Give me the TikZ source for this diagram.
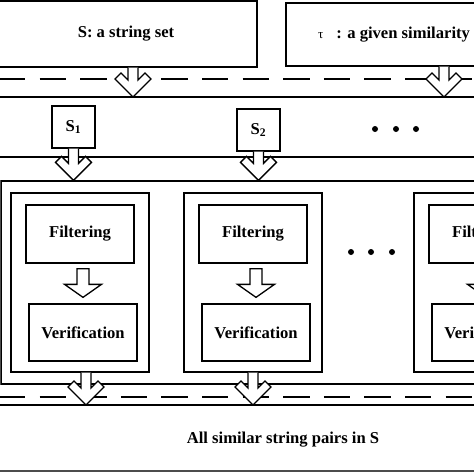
\documentclass[tikz,border=0pt]{standalone}
\usepackage{fontspec}
\setmainfont{Liberation Serif}
\usetikzlibrary{calc}
\tikzset{
  box/.style={draw, line width=1.3pt, fill=white, inner sep=0pt,
    font=\fontsize{16.6}{20}\selectfont\bfseries},
  txt/.style={inner sep=0pt, font=\fontsize{16.6}{20}\selectfont\bfseries},
  chev/.style={draw, fill=white, line width=1.3pt, line join=miter},
  hline/.style={line width=1.3pt},
  dline/.style={line width=1.3pt, dash pattern=on 26.3pt off 14.3pt},
  edgeline/.style={line width=2.2pt, black!70},
  dot/.style={circle, fill=black, inner sep=0pt, minimum size=6pt},
}
\newcommand\chevarrow[2]{%
  \path[chev] let \p1=(#1), \p2=(#2) in
    (\x2-5pt,\y1) -- (\x2-5pt,\y2+17pt) -- (\x2-12pt,\y2+24pt) --
    (\x2-18pt,\y2+18pt) -- (\x2,\y2) -- (\x2+18pt,\y2+18pt) --
    (\x2+12pt,\y2+24pt) -- (\x2+5pt,\y2+17pt) -- (\x2+5pt,\y1);}
\newcommand\blkarrow[2]{%
  \path[chev] let \p1=(#1.south), \p2=(#2.north) in
    (\x2-6pt,\y1-5pt) -- (\x2-6pt,\y2+19pt) -- (\x2-18.5pt,\y2+19pt) --
    (\x2,\y2+6pt) -- (\x2+18.5pt,\y2+19pt) -- (\x2+6pt,\y2+19pt) --
    (\x2+6pt,\y1-5pt) -- cycle;}
\begin{document}
\begin{tikzpicture}[x=1pt,y=-1pt]
\useasboundingbox (0,0) rectangle (474,474);
% horizontal lines
\coordinate (dA1) at (-1,79);  \coordinate (dA2) at (490,79);
\coordinate (hA1) at (-10,97); \coordinate (hA2) at (490,97);
\coordinate (hB1) at (-10,157); \coordinate (hB2) at (490,157);
\coordinate (dC1) at (-1,397); \coordinate (dC2) at (490,397);
\coordinate (hC1) at (-10,405); \coordinate (hC2) at (490,405);
\coordinate (hD1) at (-10,471); \coordinate (hD2) at (490,471);
\draw[dline] (dA1) -- (dA2);
\draw[hline] (hA1) -- (hA2);
\draw[hline] (hB1) -- (hB2);
\draw[dline] (dC1) -- (dC2);
\draw[hline] (hC1) -- (hC2);
\draw[edgeline] (hD1) -- (hD2);
% top boxes
\node[box, minimum width=262pt, minimum height=66pt] (sset) at (126,34) {S: a string set};
\node[box, minimum width=216pt, minimum height=63pt] (tau) at (394,34.5)
  {{\fontsize{13}{13}\selectfont\mdseries τ}\hspace{13pt}: a given similarity};
% subsets
\node[box, minimum width=43pt, minimum height=42pt] (s1) at (73.5,127) {S\textsubscript{1}};
\node[box, minimum width=43pt, minimum height=42pt] (s2) at (258.5,130) {S\textsubscript{2}};
\node[dot] (da) at (375,129) {};
\node[dot] (db) at (396,129) {};
\node[dot] (dc) at (416,129) {};
% big box
\node[box, minimum width=489pt, minimum height=203pt] (big) at (245.5,282.5) {};
\draw[edgeline] (big.north west) -- (big.south west);
% groups
\foreach \i/\dx in {1/0,2/173,3/403}{
  \node[box, minimum width=138pt, minimum height=179pt] (g\i) at (80+\dx,282.5) {};
  \node[box, minimum width=108pt, minimum height=58pt] (f\i) at (80+\dx,234) {Filtering};
  \node[box, minimum width=108pt, minimum height=57pt] (v\i) at (83+\dx,332.5) {Verification};
  \blkarrow{f\i}{v\i}
}
\node[dot] (de) at (351,252) {};
\node[dot] (df) at (371,252) {};
\node[dot] (dg) at (392,252) {};
% chevron arrows
\coordinate (tS) at (133,97);
\coordinate (tT) at (444,97);
\coordinate (tG1) at (86,405);
\coordinate (tG2) at (253,405);
\chevarrow{sset.south}{tS}
\chevarrow{tau.south}{tT}
\chevarrow{s1.south}{s1.south |- big.north}
\chevarrow{s2.south}{s2.south |- big.north}
\chevarrow{g1.south}{tG1}
\chevarrow{g2.south}{tG2}
% result
\node[txt] (res) at (283,440) {All similar string pairs in S};
\end{tikzpicture}
\end{document}
